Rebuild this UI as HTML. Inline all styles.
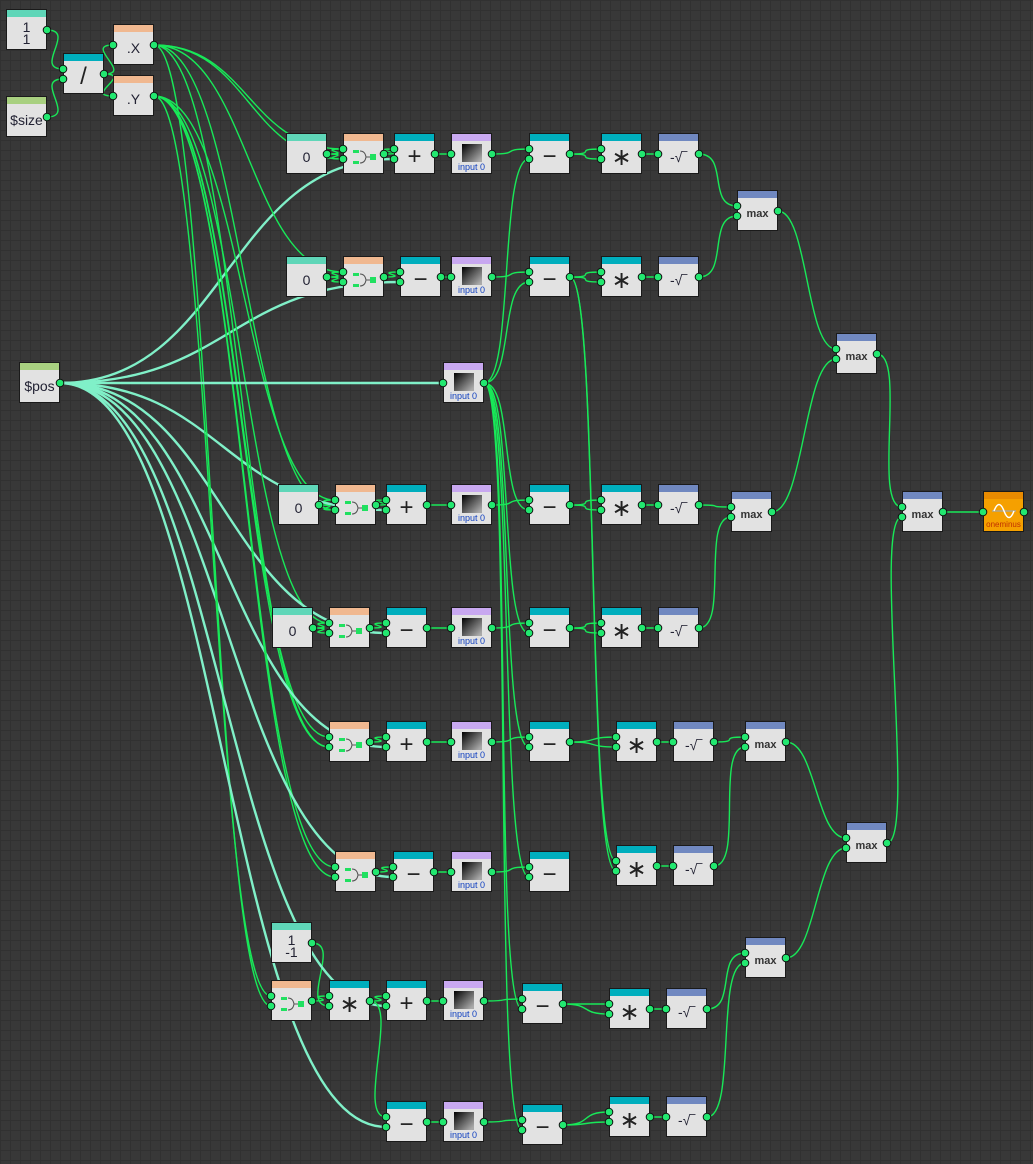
<!DOCTYPE html>
<html><head><meta charset="utf-8">
<style>
html,body{margin:0;padding:0;}
body{width:1033px;height:1164px;overflow:hidden;position:relative;
background-color:#383838;
background-image:linear-gradient(#313131 1px,transparent 1px),linear-gradient(90deg,#313131 1px,transparent 1px);
background-size:10px 10px;font-family:"Liberation Sans",sans-serif;}
.n{position:absolute;width:39px;height:39px;background:#e2e2e2;border:1px solid #1a1a1a;box-sizing:content-box;}
.n .h{height:7px;}
.n .t{position:absolute;left:0;right:0;top:7px;bottom:0;display:flex;align-items:center;justify-content:center;color:#222;}
svg{position:absolute;left:0;top:0;}
</style></head><body>
<svg id="w" width="1033" height="1164"></svg>
<div id="nodes"></div>
<svg id="p" width="1033" height="1164"></svg>
<script>
var C={c:'#5fd6b8',g:'#a8d080',t:'#00aebd',o:'#f0b890',p:'#c8a8f0',b:'#7088c0',y:'#e88a00'};
var N={};
function node(id,x,y,col,label,kind){N[id]={x:x,y:y};var d=document.createElement('div');d.className='n';d.style.left=x+'px';d.style.top=y+'px';
var h='<div class="h" style="background:'+C[col]+'"></div>';
var t='';
if(kind=='num')t='<div class="t" style="font-size:14px;color:#223;text-align:center;line-height:12px">'+label+'</div>';
else if(kind=='sym')t='<div class="t" style="font-size:24px;font-weight:300">'+label+'</div>';
else if(kind=='max')t='<div class="t" style="font-size:11px;font-weight:bold;color:#333">max</div>';
else if(kind=='in')t='<div style="position:absolute;left:10px;top:10px;width:20px;height:18px;background:linear-gradient(135deg,#000,#aaa 90%)"></div><div style="position:absolute;left:0;right:0;bottom:1px;text-align:center;font-size:9px;color:#1040c0">input 0</div>';
else if(kind=='sw')t='<div class="t"><svg style="position:static" width="30" height="20"><rect x="4" y="3" width="6" height="3" fill="#20e060"/><rect x="4" y="14" width="6" height="3" fill="#20e060"/><path d="M11 4 Q16 4 17 10 Q16 16 11 16 M17 10 H21" stroke="#555" fill="none"/><rect x="21" y="7" width="6" height="6" fill="#20e060"/></svg></div>';
else if(kind=='om'){d.style.background='#f5a000';t='<div class="t" style="flex-direction:column"><svg style="position:static" width="30" height="18"><path d="M3 9 H27" stroke="#8ad" /><path d="M5 9 Q10 -4 15 9 Q20 22 25 9" stroke="#fff" stroke-width="1.5" fill="none"/></svg><div style="font-size:8px;color:#c03000">oneminus</div></div>';}
else t='<div class="t" style="font-size:14px;color:#223">'+label+'</div>';
d.innerHTML=h+t;document.getElementById('nodes').appendChild(d);}
function out(id){return [N[id].x+41,N[id].y+21];}
function i1(id){return [N[id].x,N[id].y+16];}
function i2(id){return [N[id].x,N[id].y+26];}
function i0(id){return [N[id].x,N[id].y+21];}
var W='',P={};
function wire(a,b,pale){var dx=Math.max(30,Math.abs(b[0]-a[0])*0.5);
W+='<path d="M'+a[0]+' '+a[1]+' C'+(a[0]+dx)+' '+a[1]+' '+(b[0]-dx)+' '+b[1]+' '+b[0]+' '+b[1]+'" stroke="'+(pale?'#80f0c8':'#18e858')+'" stroke-width="'+(pale?2.4:1.4)+'" fill="none"/>';
P[a]=a;P[b]=b;}
node('one',6,9,'c','1<br>1','num');node('size',6,96,'g','$size','txt');
node('div',63,53,'t','/','sym');node('X',113,24,'o','.X','txt');node('Y',113,75,'o','.Y','txt');
node('pos',19,362,'g','$pos','txt');node('cin',443,362,'p','','in');
var rows=[
{y:133,z:286,s:343,op:394,ops:'+',inp:451,m:529,mu:601,sq:658},
{y:256,z:286,s:343,op:400,ops:'−',inp:451,m:529,mu:601,sq:658},
{y:484,z:278,s:335,op:386,ops:'+',inp:451,m:529,mu:601,sq:658},
{y:607,z:272,s:329,op:386,ops:'−',inp:451,m:529,mu:601,sq:658},
{y:721,s:329,op:386,ops:'+',inp:451,m:529,mu:616,sq:673},
{y:851,s:335,op:393,ops:'−',inp:451,m:529,mu:616,muy:845,sq:673}];
rows.forEach(function(r,i){var k='r'+i;
if(r.z)node(k+'z',r.z,r.y,'c','0','txt');
node(k+'s',r.s,r.y,'o','','sw');node(k+'o',r.op,r.y,'t',r.ops,'sym');
node(k+'i',r.inp,r.y,'p','','in');node(k+'m',r.m,r.y,'t','−','sym');
var my=r.muy||r.y;node(k+'u',r.mu,my,'t','∗','sym');node(k+'q',r.sq,my,'b','-√‾','txt');
var src=(i<2)?'X':'Y';
wire(out(src),i1(k+'s'));if(i<4){wire(out(k+'z'),i1(k+'s'));wire(out(k+'z'),i2(k+'s'));}else wire(out('Y'),i2(k+'s'));
if(i%2==0)wire(out('X'),i2(k+'s'));
wire(out(k+'s'),i1(k+'o'));wire(out('pos'),i2(k+'o'),1);
wire(out(k+'o'),i0(k+'i'));wire(out(k+'i'),i1(k+'m'));wire(out('cin'),i2(k+'m'));
if(i!=5){wire(out(k+'m'),i1(k+'u'));wire(out(k+'m'),i2(k+'u'));}
wire(out(k+'u'),i0(k+'q'));});
wire(out('r1m'),i1('r5u'));wire(out('r1m'),i2('r5u'));
// bottom rows
node('nm',271,922,'c','1<br>-1','num');node('s7',271,980,'o','','sw');node('u7',329,980,'t','∗','sym');
node('o7',386,980,'t','+','sym');node('i7',443,980,'p','','in');node('m7',522,983,'t','−','sym');
node('mu7',609,988,'t','∗','sym');node('q7',666,988,'b','-√‾','txt');
node('o8',386,1101,'t','−','sym');node('i8',443,1101,'p','','in');node('m8',522,1104,'t','−','sym');
node('mu8',609,1096,'t','∗','sym');node('q8',666,1096,'b','-√‾','txt');
wire(out('Y'),i1('s7'));wire(out('X'),i2('s7'));wire(out('s7'),i1('u7'));wire(out('nm'),i2('u7'));
wire(out('u7'),i1('o7'));wire(out('pos'),i2('o7'),1);wire(out('u7'),i1('o8'));wire(out('pos'),i2('o8'),1);
wire(out('o7'),i0('i7'));wire(out('o8'),i0('i8'));wire(out('i7'),i1('m7'));wire(out('cin'),i2('m7'));
wire(out('i8'),i1('m8'));wire(out('cin'),i2('m8'));
wire(out('m7'),i1('mu7'));wire(out('m7'),i2('mu7'));wire(out('m8'),i1('mu8'));wire(out('m8'),i2('mu8'));
wire(out('mu7'),i0('q7'));wire(out('mu8'),i0('q8'));
// maxes
node('x1',737,190,'b','','max');node('x2',836,333,'b','','max');node('x3',731,491,'b','','max');
node('x5',745,721,'b','','max');node('x6',846,822,'b','','max');node('x7',745,937,'b','','max');
node('xf',902,491,'b','','max');node('om',983,491,'y','','om');
wire(out('r0q'),i1('x1'));wire(out('r1q'),i2('x1'));wire(out('r2q'),i1('x3'));wire(out('r3q'),i2('x3'));
wire(out('x1'),i1('x2'));wire(out('x3'),i2('x2'));
wire(out('r4q'),i1('x5'));wire(out('r5q'),i2('x5'));wire(out('q7'),i1('x7'));wire(out('q8'),i2('x7'));
wire(out('x5'),i1('x6'));wire(out('x7'),i2('x6'));wire(out('x2'),i1('xf'));wire(out('x6'),i2('xf'));wire(out('xf'),i0('om'));
wire(out('one'),i1('div'));wire(out('size'),i2('div'));wire(out('div'),i0('X'));wire(out('div'),i0('Y'));
wire(out('pos'),i0('cin'),1);
document.getElementById('w').innerHTML=W;
var s='';for(var k in P){var q=P[k];s+='<circle cx="'+q[0]+'" cy="'+q[1]+'" r="3.8" fill="#22e870" stroke="#111" stroke-width="1"/>';}
s+='<circle cx="1024" cy="512" r="3.8" fill="#22e870" stroke="#111"/>';
document.getElementById('p').innerHTML=s;
</script>
</body></html>
